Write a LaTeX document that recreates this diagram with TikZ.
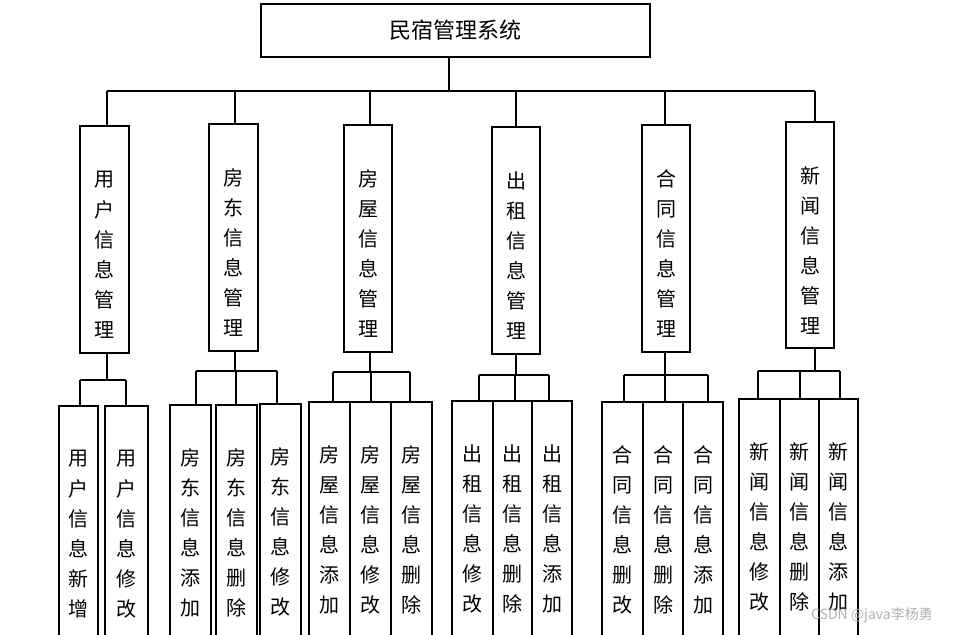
\documentclass[tikz,border=0pt]{standalone}
\usepackage{fontspec}
\setmainfont{Noto Sans CJK SC}
\begin{document}
\begin{tikzpicture}[x=1pt,y=-1pt,line width=1.3pt,
  bx/.style={draw=black},
  ch/.style={inner sep=0pt,font=\fontsize{20}{20}\selectfont}]
\clip (0,0) rectangle (965,634);
\fill[white] (0,0) rectangle (965,634);
% top
\node[bx,minimum width=389pt,minimum height=53pt,font=\fontsize{22}{22}\selectfont] (root) at (455.5,30.5) {民宿管理系统};
\draw (root.south -| 449,0) -- (449,91);
\draw (107,91) -- (815,91);
% mid boxes: left, right, top, bottom, drop x, name, text
\foreach \l/\r/\t/\b/\d/\n/\s in {
 80/129/126/353/107/m1/{用,户,信,息,管,理},
 209/258/124/351/235/m2/{房,东,信,息,管,理},
 344/392/125/352/370/m3/{房,屋,信,息,管,理},
 492/540/127/354/516/m4/{出,租,信,息,管,理},
 642/690/125/352/665/m5/{合,同,信,息,管,理},
 786/834/122/348/815/m6/{新,闻,信,息,管,理}}{
  \draw (\l,\t) rectangle (\r,\b);
  \coordinate (\n) at ({(\l+\r)/2},\t);
  \draw (\d,91) -- (\d,\t);
  \foreach \c [count=\i] in \s { \node[ch] at ({(\l+\r)/2},{\t+54+(\i-1)*30-0}) {\c}; }
}
% group connectors: drop x, mid bottom, bar y, bar left, bar right
\foreach \d/\mb/\y/\a/\z in {107/353/380/80/126, 235/351/371/196/277, 370/352/372/333/410,
  516/354/375/479/549, 665/352/375/624/708, 815/348/371/758/840}{
  \draw (\d,\mb) -- (\d,\y);
  \draw (\a,\y) -- (\z,\y);
}
% leaves: left,right,top,drop x,bar y,text
\foreach \l/\r/\t/\dx/\by/\s in {
 59/98/406/80/380/{用,户,信,息,新,增},
 105/148/406/126/380/{用,户,信,息,修,改},
 170/211/405/196/371/{房,东,信,息,添,加},
 216/257/405/236/371/{房,东,信,息,删,除},
 260/301/404/277/371/{房,东,信,息,修,改},
 309/350/402/333/372/{房,屋,信,息,添,加},
 350/391/402/371/372/{房,屋,信,息,修,改},
 391/432/402/410/372/{房,屋,信,息,删,除},
 452/493/401/479/375/{出,租,信,息,修,改},
 493/532/401/515/375/{出,租,信,息,删,除},
 532/572/401/549/375/{出,租,信,息,添,加},
 602/643/402/624/375/{合,同,信,息,删,改},
 643/683/402/665/375/{合,同,信,息,删,除},
 683/723/402/708/375/{合,同,信,息,添,加},
 739/780/399/758/371/{新,闻,信,息,修,改},
 780/819/399/800/371/{新,闻,信,息,删,除},
 819/858/399/840/371/{新,闻,信,息,添,加}}{
  \draw (\l,650) -- (\l,\t) -- (\r,\t) -- (\r,650);
  \draw (\dx,\by) -- (\dx,\t);
  \foreach \c [count=\i] in \s { \node[ch] at ({(\l+\r)/2},{\t+53+(\i-1)*30}) {\c}; }
}
\node[inner sep=0pt,text=gray!60,font=\fontsize{14}{14}\selectfont] (wm) at (872,615) {CSDN @java李杨勇};
\end{tikzpicture}
\end{document}
